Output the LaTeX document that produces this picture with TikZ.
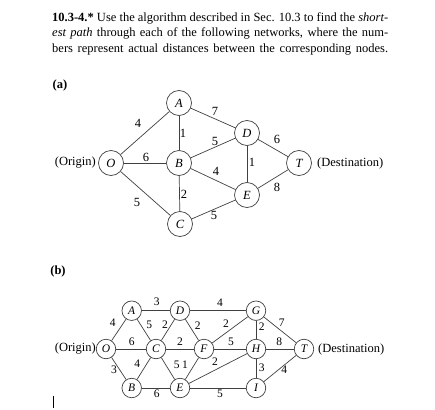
\documentclass[tikz,border=0pt]{standalone}
\usepackage{fontspec}
\setmainfont{Liberation Serif}
\begin{document}
\begin{tikzpicture}[x=1pt,y=-1pt,
  na/.style={circle,draw=black!75,line width=0.7pt,minimum size=25pt,inner sep=0pt,font=\fontsize{12.5}{14}\selectfont\itshape},
  nb/.style={circle,draw=black!75,line width=0.7pt,minimum size=19.5pt,inner sep=0pt,font=\fontsize{11.5}{13}\selectfont\itshape},
  ed/.style={draw=black!75,line width=0.7pt},
  la/.style={font=\fontsize{12.5}{14}\selectfont,inner sep=0pt},
  lb/.style={font=\fontsize{11.5}{13}\selectfont,inner sep=0pt},
  hd/.style={font=\fontsize{12.5}{14}\selectfont,inner sep=0pt,anchor=base west},
  tag/.style={font=\fontsize{12.5}{14}\selectfont\bfseries,inner sep=0pt}]
\useasboundingbox (0,0) rectangle (435,409);
% header
\node[hd] (h1) at (52,21.5) {\hbox to 336pt{\textbf{10.3-4.*} Use the algorithm described in Sec. 10.3 to find the \textit{short-}}};
\node[hd] (h2) at (52,37) {\hbox to 336pt{\textit{est path} through each of the following networks, where the num-}};
\node[hd] (h3) at (52,52.5) {\hbox to 336pt{bers represent actual distances between the corresponding nodes.}};
% (a)
\node[tag] (ta) at (60,85) {(a)};
\node[na] (aO) at (111,163) {O};
\node[na] (aA) at (179,103) {A};
\node[na] (aB) at (179,163) {B};
\node[na] (aC) at (180,224) {C};
\node[na] (aD) at (247,133) {D};
\node[na] (aE) at (247,195) {E};
\node[na] (aT) at (299,163) {T};
\node[la,anchor=east] (aor) at (96,163) {(Origin)};
\node[la,anchor=west] (ade) at (317,163) {(Destination)};
\draw[ed] (aO) -- (aA); \draw[ed] (aO) -- (aB); \draw[ed] (aO) -- (aC);
\draw[ed] (aA) -- (aB); \draw[ed] (aB) -- (aC);
\draw[ed] (aA) -- (aD); \draw[ed] (aB) -- (aD); \draw[ed] (aB) -- (aE); \draw[ed] (aC) -- (aE);
\draw[ed] (aD) -- (aE); \draw[ed] (aD) -- (aT); \draw[ed] (aE) -- (aT);
\node[la] (l1) at (138,123) {4};
\node[la] (l2) at (146,157) {6};
\node[la] (l3) at (137,202) {5};
\node[la] (l4) at (183,133) {1};
\node[la] (l5) at (184,194) {2};
\node[la] (l6) at (215,111) {7};
\node[la] (l7) at (215,141) {5};
\node[la] (l8) at (216,171) {4};
\node[la] (l9) at (214,215) {5};
\node[la] (l10) at (252,162) {1};
\node[la] (l11) at (277,139) {6};
\node[la] (l12) at (277,187) {8};
% (b)
\node[tag] (tb) at (58,271) {(b)};
\node[nb] (bO) at (106,349) {O};
\node[nb] (bA) at (131.7,310.7) {A};
\node[nb] (bB) at (131.7,388) {B};
\node[nb] (bC) at (156,349) {C};
\node[nb] (bD) at (180,310.7) {D};
\node[nb] (bE) at (180,388) {E};
\node[nb] (bF) at (204,349) {F};
\node[nb] (bG) at (256,310.7) {G};
\node[nb] (bH) at (256,349) {H};
\node[nb] (bI) at (256,388) {I};
\node[nb] (bT) at (304,349) {T};
\node[la,anchor=east] (bor) at (96,349) {(Origin)};
\node[la,anchor=west] (bde) at (318,349) {(Destination)};
\draw[ed] (bO) -- (bA); \draw[ed] (bO) -- (bC); \draw[ed] (bO) -- (bB);
\draw[ed] (bA) -- (bD); \draw[ed] (bA) -- (bC); \draw[ed] (bD) -- (bC);
\draw[ed] (bD) -- (bF); \draw[ed] (bD) -- (bG); \draw[ed] (bC) -- (bF);
\draw[ed] (bB) -- (bC); \draw[ed] (bC) -- (bE); \draw[ed] (bB) -- (bE);
\draw[ed] (bE) -- (bF); \draw[ed] (bE) -- (bH); \draw[ed] (bE) -- (bI);
\draw[ed] (bF) -- (bG); \draw[ed] (bF) -- (bH); \draw[ed] (bG) -- (bH);
\draw[ed] (bG) -- (bT); \draw[ed] (bH) -- (bT); \draw[ed] (bH) -- (bI);
\draw[ed] (bI) -- (bT);
\node[lb] (m1) at (112.7,323) {4};
\node[lb] (m2) at (131.7,341.7) {6};
\node[lb] (m3) at (114,370) {3};
\node[lb] (m4) at (156.7,301.7) {3};
\node[lb] (m5) at (149.3,325) {5};
\node[lb] (m6) at (165,325) {2};
\node[lb] (m7) at (197.7,326) {2};
\node[lb] (m8) at (180,341.7) {2};
\node[lb] (m9) at (137.3,364) {4};
\node[lb] (m10) at (176.7,365) {5};
\node[lb] (m11) at (185,365) {1};
\node[lb] (m12) at (156.7,393.3) {6};
\node[lb] (m13) at (215,361.7) {2};
\node[lb] (m14) at (220,302.7) {4};
\node[lb] (m15) at (226,323.3) {2};
\node[lb] (m16) at (261.7,326.7) {2};
\node[lb] (m17) at (281.7,322.7) {7};
\node[lb] (m18) at (231,341.7) {5};
\node[lb] (m19) at (279.3,341.7) {8};
\node[lb] (m20) at (261.7,367.3) {3};
\node[lb] (m21) at (284.3,370) {4};
\node[lb] (m22) at (220,394) {5};
% cursor mark
\coordinate (cu1) at (53,396);
\coordinate (cu2) at (53,408);
\draw[line width=1pt] (cu1) -- (cu2);
\end{tikzpicture}
\end{document}
